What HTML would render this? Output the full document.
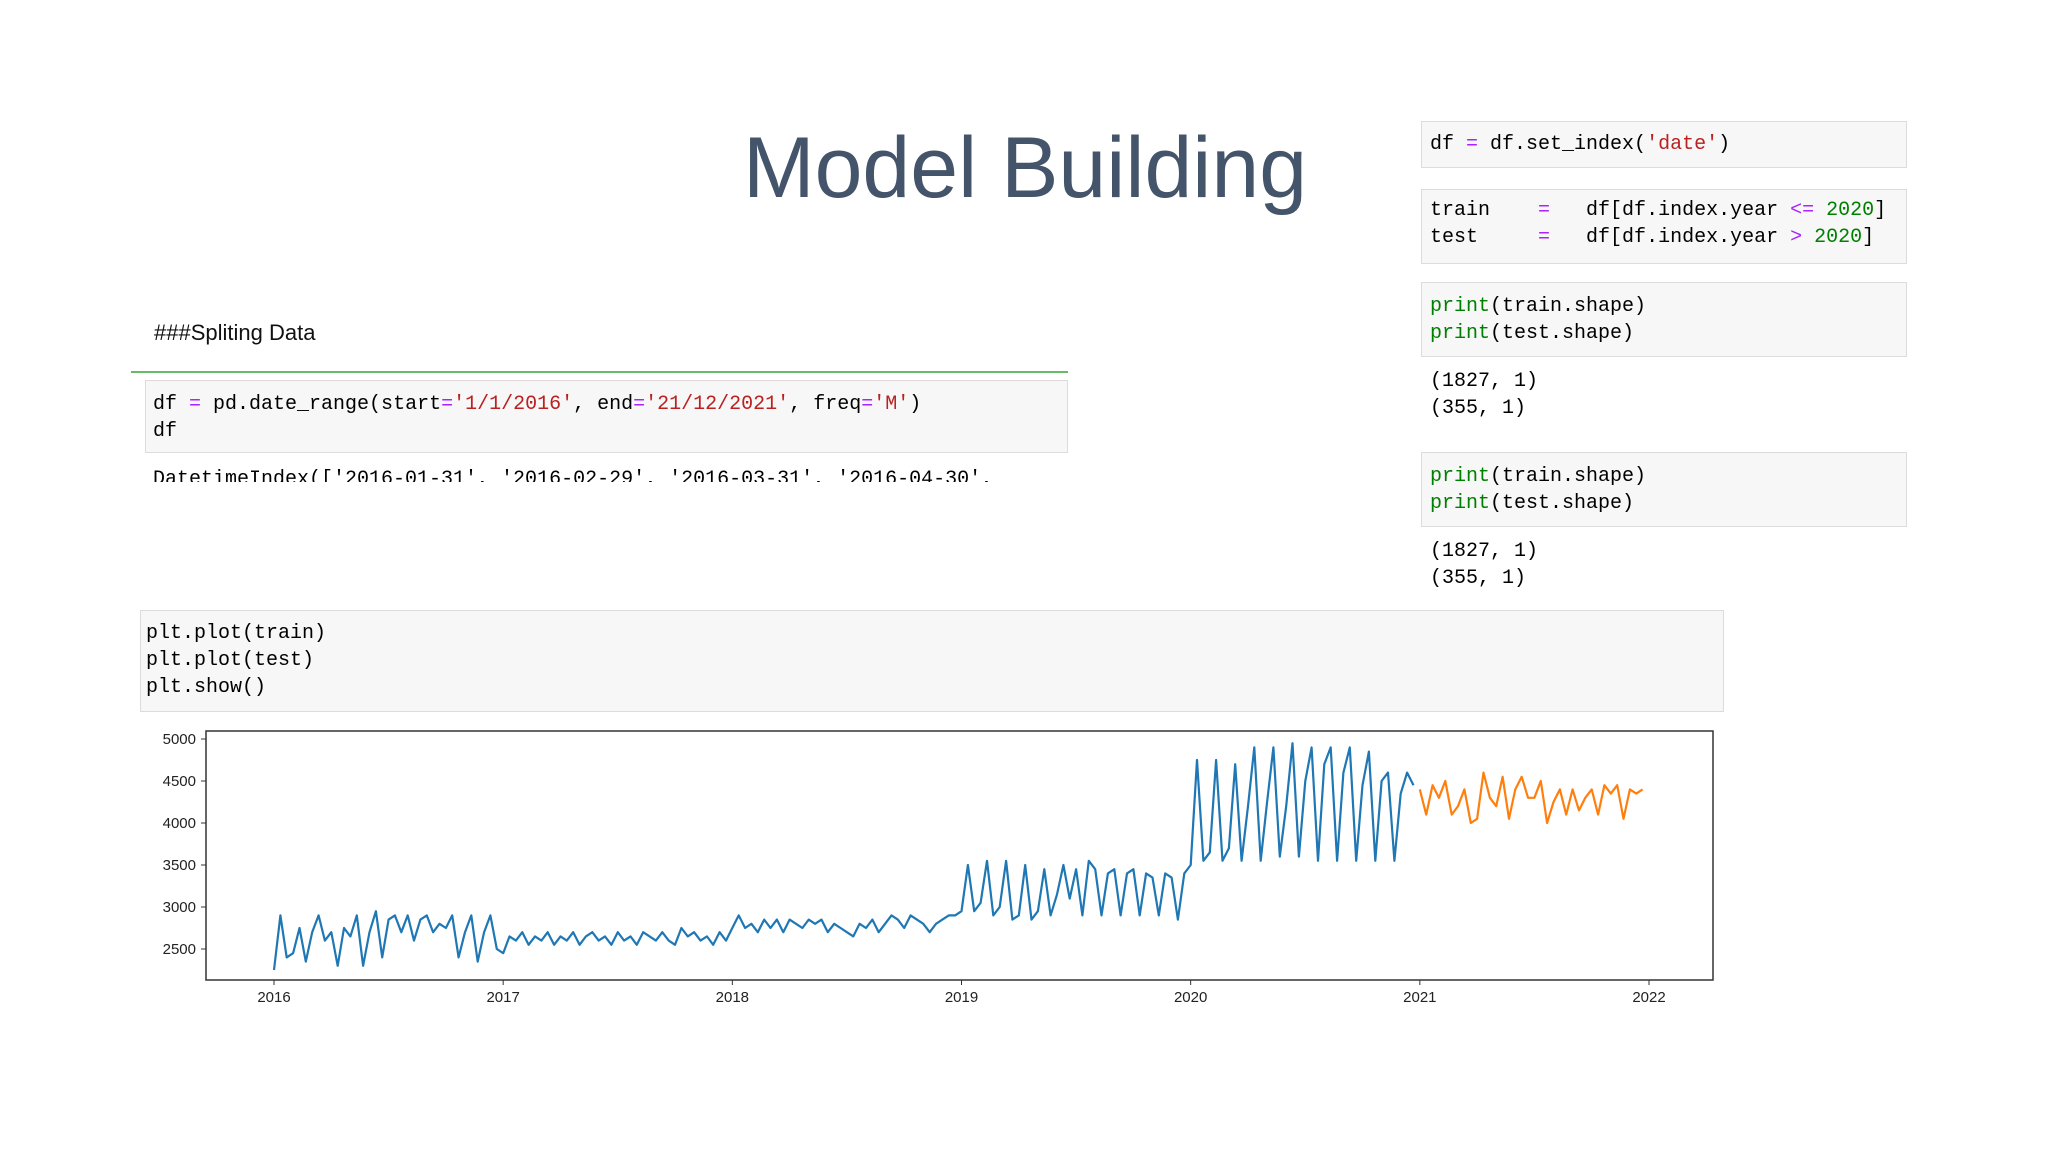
<!DOCTYPE html>
<html><head><meta charset="utf-8"><style>
body{margin:0;width:2048px;height:1152px;background:#fff;position:relative;overflow:hidden;font-family:"Liberation Sans",sans-serif}
.abs{position:absolute}
.cell{position:absolute;background:#f7f7f7;border:1px solid #dcdcdc;box-sizing:border-box}
.code{font-family:"Liberation Mono",monospace;font-size:20px;line-height:27px;color:#000;white-space:pre;position:absolute}
.o{color:#aa22ff}.s{color:#ba2121}.n{color:#008000}.k{color:#008000}
</style></head><body>
<div class="abs" style="left:700px;top:118px;width:650px;text-align:center;font-size:86px;color:#44546a;line-height:100px">Model Building</div>

<div class="cell" style="left:1421px;top:121px;width:486px;height:47px"></div>
<div class="code" style="left:1430px;top:131px">df <span class="o">=</span> df.set_index(<span class="s">'date'</span>)</div>
<div class="cell" style="left:1421px;top:189px;width:486px;height:75px"></div>
<div class="code" style="left:1430px;top:197px">train    <span class="o">=</span>   df[df.index.year <span class="o">&lt;=</span> <span class="n">2020</span>]
test     <span class="o">=</span>   df[df.index.year <span class="o">&gt;</span> <span class="n">2020</span>]</div>
<div class="cell" style="left:1421px;top:282px;width:486px;height:75px"></div>
<div class="code" style="left:1430px;top:293px"><span class="k">print</span>(train.shape)
<span class="k">print</span>(test.shape)</div>
<div class="code" style="left:1430px;top:368px">(1827, 1)
(355, 1)</div>
<div class="cell" style="left:1421px;top:452px;width:486px;height:75px"></div>
<div class="code" style="left:1430px;top:463px"><span class="k">print</span>(train.shape)
<span class="k">print</span>(test.shape)</div>
<div class="code" style="left:1430px;top:538px">(1827, 1)
(355, 1)</div>

<div class="abs" style="left:154px;top:320px;font-size:22px;color:#111">###Spliting Data</div>
<div class="abs" style="left:131px;top:371px;width:937px;height:2px;background:#66bb6a"></div>
<div class="cell" style="left:145px;top:380px;width:923px;height:73px"></div>
<div class="code" style="left:153px;top:391px">df <span class="o">=</span> pd.date_range(start<span class="o">=</span><span class="s">'1/1/2016'</span>, end<span class="o">=</span><span class="s">'21/12/2021'</span>, freq<span class="o">=</span><span class="s">'M'</span>)
df</div>
<div class="abs" style="left:153px;top:466px;height:16px;overflow:hidden"><div class="code" style="position:static">DatetimeIndex(['2016-01-31', '2016-02-29', '2016-03-31', '2016-04-30',</div></div>

<div class="cell" style="left:140px;top:610px;width:1584px;height:102px"></div>
<div class="code" style="left:146px;top:620px">plt.plot(train)
plt.plot(test)
plt.show()</div>

<svg class="abs" style="left:0;top:0" width="2048" height="1152">
<g id="g"></g>
</svg>
<script>
const yTicks=[2500,3000,3500,4000,4500,5000];
const xTicks=[2016,2017,2018,2019,2020,2021,2022];
const trainStart=2016;
const testStart=2021;
const trainValues=[2250,2900,2400,2450,2750,2350,2700,2900,2600,2700,2300,2750,2650,2900,2300,2700,2950,2400,2850,2900,2700,2900,2600,2850,2900,2700,2800,2750,2900,2400,2700,2900,2350,2700,2900,2500,
2450,2650,2600,2700,2550,2650,2600,2700,2550,2650,2600,2700,2550,2650,2700,2600,2650,2550,2700,2600,2650,2550,2700,2650,2600,2700,2600,2550,2750,2650,2700,2600,2650,2550,2700,2600,
2750,2900,2750,2800,2700,2850,2750,2850,2700,2850,2800,2750,2850,2800,2850,2700,2800,2750,2700,2650,2800,2750,2850,2700,2800,2900,2850,2750,2900,2850,2800,2700,2800,2850,2900,2900,
2950,3500,2950,3050,3550,2900,3000,3550,2850,2900,3500,2850,2950,3450,2900,3150,3500,3100,3450,2900,3550,3450,2900,3400,3450,2900,3400,3450,2900,3400,3350,2900,3400,3350,2850,3400,
3500,4750,3550,3650,4750,3550,3700,4700,3550,4200,4900,3550,4250,4900,3600,4200,4950,3600,4500,4900,3550,4700,4900,3550,4600,4900,3550,4450,4850,3550,4500,4600,3550,4350,4600,4450];
const testValues=[4400,4100,4450,4300,4500,4100,4200,4400,4000,4050,4600,4300,4200,4550,4050,4400,4550,4300,4300,4500,4000,4250,4400,4100,4400,4150,4300,4400,4100,4450,4350,4450,4050,4400,4350,4400];
const perYear=36;
const X0=206,X1=1713,Y0=731,Y1=980;
const xs=t=>274+(t-2016)*(1649-274)/6;
const ys=v=>949-(v-2500)*(949-739)/2500;
const NS='http://www.w3.org/2000/svg';
const g=document.getElementById('g');
function mk(tag,at){const e=document.createElementNS(NS,tag);for(const k in at)e.setAttribute(k,at[k]);g.appendChild(e);return e;}
const bg=mk('rect',{x:X0,y:Y0,width:X1-X0,height:Y1-Y0,fill:'#fff',stroke:'#333','stroke-width':1.5});


yTicks.forEach(v=>{
 const l=mk('line',{x1:X0-5,x2:X0,y1:ys(v),y2:ys(v),stroke:'#333'});
 
 
 const t=mk('text',{x:X0-10,y:ys(v)+5,'text-anchor':'end','font-size':15,fill:'#222','font-family':'Liberation Sans, sans-serif'});
 t.textContent=v;
 
 
});
xTicks.forEach(v=>{
 const l=mk('line',{x1:xs(v),x2:xs(v),y1:Y1,y2:Y1+5,stroke:'#333'});
 
 
 const t=mk('text',{x:xs(v),y:Y1+22,'text-anchor':'middle','font-size':15,fill:'#222','font-family':'Liberation Sans, sans-serif'});
 t.textContent=v;
 
 
});
function series(vals,start,color,name){
 const d=vals.map((v,i)=>(i?'L':'M')+xs(start+i/perYear).toFixed(1)+','+ys(v).toFixed(1)).join(' ');
 const p=mk('path',{d:d,fill:'none',stroke:color,'stroke-width':2.2,'stroke-linejoin':'round'});
 
 
}
series(trainValues,trainStart,'#1f77b4','train-line');
series(testValues,testStart,'#ff7f0e','test-line');
</script>
</body></html>
